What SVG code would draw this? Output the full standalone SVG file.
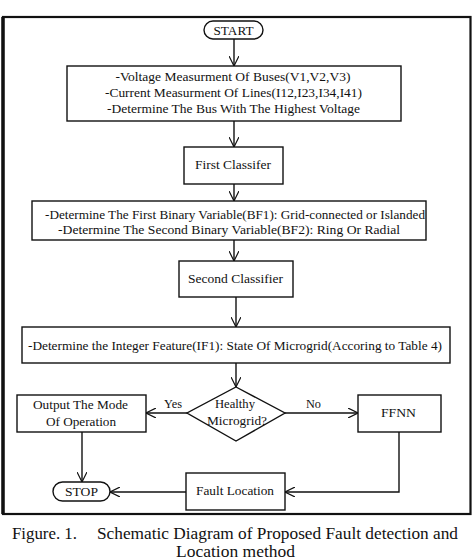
<svg xmlns="http://www.w3.org/2000/svg" width="474" height="560" viewBox="0 0 474 560">
<defs>
<marker id="arr" viewBox="0 0 10 10" refX="10" refY="5" markerWidth="10" markerHeight="10" markerUnits="userSpaceOnUse" orient="auto">
<path d="M0,0 L10,5 L0,10" fill="none" stroke="#111" stroke-width="1.2"/>
</marker>
</defs>
<style>
.box{fill:#fff;stroke:#111;stroke-width:1.4}
.t{font-family:"Liberation Serif","Tinos","Times New Roman","DejaVu Serif",serif;font-size:12px;fill:#111;text-anchor:middle}
.c{font-family:"Liberation Serif","Tinos","Times New Roman","DejaVu Serif",serif;font-size:16.5px;fill:#111}
.ln{fill:none;stroke:#111;stroke-width:1.4;marker-end:url(#arr)}
</style>
<rect width="474" height="560" fill="#fff"/>
<rect x="3" y="17" width="467.5" height="497" fill="none" stroke="#111" stroke-width="2.2"/>
<line x1="3" y1="17" x2="3" y2="514" stroke="#111" stroke-width="3.5"/>

<g id="connectors">
<path class="ln" d="M234,39 V66"/>
<path class="ln" d="M234,121 V147"/>
<path class="ln" d="M234,184 V201"/>
<path class="ln" d="M234,240 V261"/>
<path class="ln" d="M236,297 V327"/>
<path class="ln" d="M236,363 V387"/>
<path class="ln" d="M187,413 H146"/>
<path class="ln" d="M285,413 H358"/>
<path class="ln" d="M82,432 V482"/>
<path class="ln" d="M399,432 V492 H285"/>
<path class="ln" d="M186,492 H110"/>
<text class="t" x="173" y="408" textLength="18" lengthAdjust="spacingAndGlyphs">Yes</text>
<text class="t" x="313.5" y="408" textLength="15" lengthAdjust="spacingAndGlyphs">No</text>
</g>

<g id="start">
<rect class="box" x="204" y="21" width="59" height="18" rx="9"/>
<text class="t" x="233.5" y="34.5" textLength="40" lengthAdjust="spacingAndGlyphs">START</text>
</g>
<g id="measure">
<rect class="box" x="67" y="66" width="334" height="55"/>
<text class="t" x="233" y="81" textLength="235" lengthAdjust="spacingAndGlyphs">-Voltage Measurment Of Buses(V1,V2,V3)</text>
<text class="t" x="233.5" y="97" textLength="257" lengthAdjust="spacingAndGlyphs">-Current Measurment Of Lines(I12,I23,I34,I41)</text>
<text class="t" x="233.5" y="113" textLength="253" lengthAdjust="spacingAndGlyphs">-Determine The Bus With The Highest Voltage</text>
</g>
<g id="first-classifier">
<rect class="box" x="184" y="147" width="99" height="37"/>
<text class="t" x="233" y="169" textLength="76" lengthAdjust="spacingAndGlyphs">First Classifer</text>
</g>
<g id="binary">
<rect class="box" x="32" y="201" width="394" height="39"/>
<text class="t" x="235" y="219" textLength="380" lengthAdjust="spacingAndGlyphs">-Determine The First Binary Variable(BF1): Grid-connected or Islanded</text>
<text class="t" x="229" y="234" textLength="342" lengthAdjust="spacingAndGlyphs">-Determine The Second Binary Variable(BF2): Ring Or Radial</text>
</g>
<g id="second-classifier">
<rect class="box" x="179" y="261" width="114" height="36"/>
<text class="t" x="235.5" y="283" textLength="95" lengthAdjust="spacingAndGlyphs">Second Classifier</text>
</g>
<g id="integer">
<rect class="box" x="22" y="327" width="428" height="36"/>
<text class="t" x="235" y="350" textLength="414" lengthAdjust="spacingAndGlyphs">-Determine the Integer Feature(IF1): State Of Microgrid(Accoring to Table 4)</text>
</g>
<g id="decision">
<polygon class="box" points="236,387 285,413 236,441 187,413"/>
<text class="t" x="235" y="408" textLength="40" lengthAdjust="spacingAndGlyphs">Healthy</text>
<text class="t" x="237" y="425" textLength="60" lengthAdjust="spacingAndGlyphs">Microgrid?</text>
</g>
<g id="output">
<rect class="box" x="17" y="395" width="129" height="37"/>
<text class="t" x="80.5" y="409" textLength="95" lengthAdjust="spacingAndGlyphs">Output The Mode</text>
<text class="t" x="81" y="426" textLength="70" lengthAdjust="spacingAndGlyphs">Of Operation</text>
</g>
<g id="ffnn">
<rect class="box" x="358" y="395" width="83" height="37"/>
<text class="t" x="398.5" y="417" textLength="35" lengthAdjust="spacingAndGlyphs">FFNN</text>
</g>
<g id="fault-location">
<rect class="box" x="186" y="473" width="99" height="37"/>
<text class="t" x="235" y="495" textLength="78" lengthAdjust="spacingAndGlyphs">Fault Location</text>
</g>
<g id="stop">
<rect class="box" x="53" y="482" width="57" height="19" rx="9.5"/>
<text class="t" x="81.5" y="495.5" textLength="33" lengthAdjust="spacingAndGlyphs">STOP</text>
</g>

<text class="c" x="12" y="539" textLength="65" lengthAdjust="spacingAndGlyphs">Figure. 1.</text>
<text class="c" x="97" y="539" textLength="361" lengthAdjust="spacingAndGlyphs">Schematic Diagram of Proposed Fault detection and</text>
<text class="c" x="176" y="557" textLength="119" lengthAdjust="spacingAndGlyphs">Location method</text>
</svg>
